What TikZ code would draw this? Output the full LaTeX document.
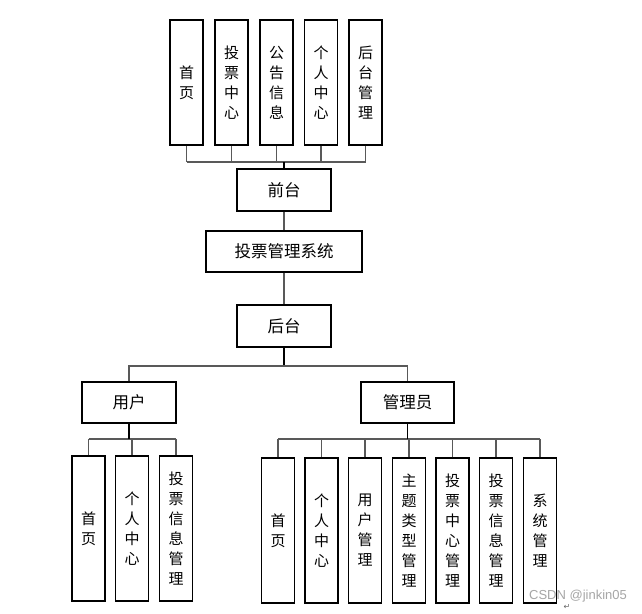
\documentclass[tikz,border=0pt]{standalone}
\usepackage{fontspec}
\newfontfamily\cjk{Noto Sans CJK SC}
\newfontfamily\wmfont{Liberation Sans}
\newfontfamily\dvfont{DejaVu Sans}
\begin{document}
\begin{tikzpicture}[x=1pt,y=-1pt,
 box/.style={draw=black,line width=1.1pt,fill=white,inner sep=0pt,font=\cjk\fontsize{16.5}{18}\selectfont},
 hbox/.style={box,minimum width=94pt,minimum height=42pt},
 vbox/.style={box,minimum width=33pt,minimum height=#1,align=center,font=\cjk\fontsize{15}{20}\selectfont},
 link/.style={draw=black!65,line width=1.5pt},
 spine/.style={draw=black,line width=1.8pt}]
\useasboundingbox[fill=white] (0,0) rectangle (642,613);
% top level
\node[vbox=125pt] (t1) at (186.5,82.5) {首\\页};
\node[vbox=125pt] (t2) at (231.5,82.5) {投\\票\\中\\心};
\node[vbox=125pt] (t3) at (276.5,82.5) {公\\告\\信\\息};
\node[vbox=125pt] (t4) at (321,82.5) {个\\人\\中\\心};
\node[vbox=125pt] (t5) at (365.5,82.5) {后\\台\\管\\理};
\node[hbox] (qt) at (284,190) {前台};
\node[hbox,minimum width=156pt,minimum height=41pt] (sys) at (284,251.5) {投票管理系统};
\node[hbox] (ht) at (284,326) {后台};
\node[hbox,minimum height=41pt] (user) at (129,402.5) {用户};
\node[hbox,minimum width=93pt,minimum height=41pt] (admin) at (407.5,402.5) {管理员};
% user children
\node[vbox=145pt] (u1) at (88.5,528.5) {首\\页};
\node[vbox=145pt] (u2) at (132,528.5) {个\\人\\中\\心};
\node[vbox=145pt] (u3) at (176,528.5) {投\\票\\信\\息\\管\\理};
% admin children
\node[vbox=145pt] (a1) at (278,530.5) {首\\页};
\node[vbox=145pt] (a2) at (321.5,530.5) {个\\人\\中\\心};
\node[vbox=145pt] (a3) at (365,530.5) {用\\户\\管\\理};
\node[vbox=145pt] (a4) at (409,530.5) {主\\题\\类\\型\\管\\理};
\node[vbox=145pt] (a5) at (452.5,530.5) {投\\票\\中\\心\\管\\理};
\node[vbox=145pt] (a6) at (496,530.5) {投\\票\\信\\息\\管\\理};
\node[vbox=145pt] (a7) at (540,530.5) {系\\统\\管\\理};
% bus coordinates
\coordinate (busT) at (284,162);
\coordinate (busM) at (284,366);
\coordinate (busU) at (129,439);
\coordinate (busA) at (407.5,439);
% top connectors
\foreach \n in {t1,t2,t3,t4,t5} \draw[link] (\n.south) -- (\n.south |- busT);
\draw[link] (t1.south |- busT) -- (t5.south |- busT);
\draw[spine] (busT) -- (qt.north);
\draw[link] (qt.south) -- (sys.north);
\draw[link] (sys.south) -- (ht.north);
% middle
\draw[spine] (ht.south) -- (busM);
\draw[link] (user.north) |- (busM) -| (admin.north);
% user children
\foreach \n in {u1,u2,u3} \draw[link] (\n.north) -- (\n.north |- busU);
\draw[link] (u1.north |- busU) -- (u3.north |- busU);
\draw[spine] (user.south) -- (busU);
% admin children
\foreach \n in {a1,a2,a3,a4,a5,a6,a7} \draw[link] (\n.north) -- (\n.north |- busA);
\draw[link] (a1.north |- busA) -- (a7.north |- busA);
\draw[spine] (admin.south) -- (busA);
% watermark
\node[text=black!35,font=\wmfont\fontsize{13}{14}\selectfont,inner sep=0pt] (wm) at (578,596) {CSDN @jinkin05};
\node[text=black!60,font=\dvfont\fontsize{8}{9}\selectfont,inner sep=0pt] (ret) at (567,607) {↵};
\end{tikzpicture}
\end{document}
